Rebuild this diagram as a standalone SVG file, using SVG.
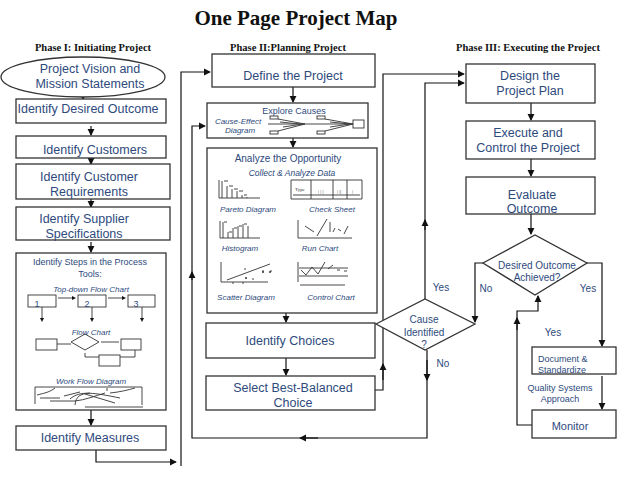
<svg xmlns="http://www.w3.org/2000/svg" width="638" height="478" viewBox="0 0 638 478">
<defs>
<marker id="ar" viewBox="0 0 8 8" refX="7" refY="4" markerWidth="6" markerHeight="6" orient="auto"><path d="M0,0 L8,4 L0,8 z" fill="#111"/></marker>
<style>
.b{fill:#fff;stroke:#333;stroke-width:1.3}
.t{font-family:"Liberation Sans",Arial,sans-serif;fill:#2E4A7D;text-anchor:middle}
.m{font-size:12.5px}
.s{font-size:9px}
.i{font-style:italic;font-size:8px}
.ph{font-family:"Liberation Serif","Times New Roman",serif;font-weight:bold;font-size:10.5px;fill:#111;text-anchor:middle}
.c{fill:none;stroke:#111;stroke-width:1.2}
.d{fill:none;stroke:#333;stroke-width:0.9}
</style>
</defs>
<rect width="638" height="478" fill="#fff"/>
<text x="296" y="25" font-family="Liberation Serif,serif" font-weight="bold" font-size="21" text-anchor="middle" fill="#111">One Page Project Map</text>
<text class="ph" x="93" y="51">Phase I: Initiating Project</text>
<text class="ph" x="288" y="51">Phase II:Planning Project</text>
<text class="ph" x="528" y="51">Phase III: Executing the Project</text>

<g id="connectors">
<path class="c" d="M83,97 V99" marker-end="url(#ar)"/>
<path class="c" d="M91,126 V135" marker-end="url(#ar)"/>
<path class="c" d="M91,158 V164" marker-end="url(#ar)"/>
<path class="c" d="M91,199 V207" marker-end="url(#ar)"/>
<path class="c" d="M91,242 V252" marker-end="url(#ar)"/>
<path class="c" d="M91,410 V425" marker-end="url(#ar)"/>
<path class="c" d="M96,450 V462 H176" marker-end="url(#ar)"/>
<path class="c" d="M181,466 V72 H210" marker-end="url(#ar)"/>
<path class="c" d="M427,350 V438 H192 V126 H205" marker-end="url(#ar)"/>
<path class="c" d="M293,87 V102" marker-end="url(#ar)"/>
<path class="c" d="M293,138 V147" marker-end="url(#ar)"/>
<path class="c" d="M286,313 V322" marker-end="url(#ar)"/>
<path class="c" d="M286,358 V375" marker-end="url(#ar)"/>
<path class="c" d="M375,390 H383 V74 H464" marker-end="url(#ar)"/>
<path class="c" d="M425,299 V83 H464" marker-end="url(#ar)"/>
<path class="c" d="M483,263 H475 V322" marker-end="url(#ar)"/>
<path class="c" d="M531,103 V120" marker-end="url(#ar)"/>
<path class="c" d="M531,159 V176" marker-end="url(#ar)"/>
<path class="c" d="M531,214 V234" marker-end="url(#ar)"/>
<path class="c" d="M587,263 H602 V346" marker-end="url(#ar)"/>
<path class="c" d="M602,376 V409" marker-end="url(#ar)"/>
<path class="c" d="M532,425 H517 V311 H538 V296" marker-end="url(#ar)"/>
<path class="c" d="M383,380 V364" marker-end="url(#ar)"/>
<path class="c" d="M425,230 V220" marker-end="url(#ar)"/>
<path class="c" d="M427,360 V380" marker-end="url(#ar)"/>
<path class="c" d="M300,438 H318" marker-end="url(#ar)" transform="rotate(180 309 438)"/>
<path class="c" d="M192,280 V272" marker-end="url(#ar)"/>
<path class="c" d="M517,330 V318" marker-end="url(#ar)"/>
</g>

<g id="vision"><ellipse class="b" cx="83" cy="77" rx="82" ry="20"/><text class="t m" x="90" y="73">Project Vision and</text><text class="t m" x="90" y="88">Mission Statements</text></g>
<g id="outcome"><rect class="b" x="16" y="99" width="150" height="24"/><text class="t m" x="88" y="113">Identify Desired Outcome</text></g>
<g id="customers"><rect class="b" x="16" y="136" width="150" height="22"/><text class="t m" x="95" y="154">Identify Customers</text></g>
<g id="custreq"><rect class="b" x="16" y="164" width="154" height="35"/><text class="t m" x="89" y="181">Identify Customer</text><text class="t m" x="89" y="196">Requirements</text></g>
<g id="supplier"><rect class="b" x="16" y="207" width="154" height="33"/><text class="t m" x="84" y="223">Identify Supplier</text><text class="t m" x="84" y="238">Specifications</text></g>
<g id="steps"><rect class="b" x="16" y="253" width="150" height="157"/>
<text class="t s" x="90" y="265">Identify Steps in the Process</text><text class="t s" x="90" y="277">Tools:</text>
<text class="t i" x="91" y="292">Top-down Flow Chart</text>
<rect class="d" x="28" y="295" width="28" height="12"/><rect class="d" x="78" y="295" width="28" height="12"/><rect class="d" x="128" y="295" width="27" height="12"/>
<text class="t s" x="37" y="307">1</text><text class="t s" x="87" y="307">2</text><text class="t s" x="136" y="307">3</text>
<path class="d" d="M58,298 H74 M108,298 H124 M42,307 V320 M92,307 V320 M142,307 V320"/>
<path d="M72,296 l4,2 -4,2z M122,296 l4,2 -4,2z M40,318 l2,4 2,-4z M90,318 l2,4 2,-4z M140,318 l2,4 2,-4z" fill="#111"/>
<text class="t i" x="91" y="335">Flow Chart</text>
<rect class="d" x="36" y="339" width="21" height="11"/><path class="d" d="M71,342 L85,334 L99,342 L85,350 Z"/><rect class="d" x="121" y="339" width="20" height="11"/><rect class="d" x="99" y="355" width="21" height="11"/>
<path class="d" d="M57,344 H71 M101,342 H119 M85,353 V357 H99 M120,357 H135 V350"/>
<text class="t i" x="91" y="384">Work Flow Diagram</text>
<path class="d" d="M35,387 H142 M35,387 V404 M142,387 V405 M37,395 C45,393 50,392 55,388 M40,398 H60 M50,401 H75 C85,400 95,396 105,393 M70,399 C80,390 95,393 120,398 M75,405 C76,396 80,394 90,393 M85,394 L115,403 M110,393 C120,392 128,390 135,388 M85,407 H143 M64,396 L80,392 M107,391 V388"/>
</g>
<g id="measures"><rect class="b" x="16" y="426" width="150" height="24"/><text class="t m" x="90" y="442">Identify Measures</text></g>

<g id="define"><rect class="b" x="212" y="54" width="163" height="33"/><text class="t m" x="293" y="80">Define the Project</text></g>
<g id="explore"><rect class="b" x="207" y="103" width="161" height="35"/>
<text class="t s" x="294" y="114">Explore Causes</text>
<text class="t i" x="238" y="124">Cause-Effect</text><text class="t i" x="240" y="133">Diagram</text>
<rect class="d" x="270" y="116" width="8" height="3"/><rect class="d" x="270" y="131" width="8" height="3"/><rect class="d" x="317" y="116" width="8" height="3"/><rect class="d" x="317" y="131" width="8" height="3"/>
<rect class="d" x="353" y="120" width="11" height="8"/>
<path class="d" d="M268,124 H353 M278,119 L305,124 M278,131 L305,124 M325,119 L353,124 M325,131 L353,124 M280,122 L300,124 M330,122 L350,124 M330,127 L350,124 M283,127 L303,124"/>
</g>
<g id="analyze"><rect class="b" x="207" y="148" width="170" height="165"/>
<text class="t s" x="288" y="162" style="font-size:10px">Analyze the Opportunity</text>
<text class="t i" x="292" y="176" style="font-size:8.5px">Collect &amp; Analyze Data</text>
<path class="d" d="M219,180 V198 H260 M222,181 V198 M227,186 V198 M232,189 V198 M237,191 V198 M242,195 V198 M247,197 V198 M224,181 h4 M229,186 h4 M234,189 h4 M239,191 h4 M244,195 h3"/>
<text class="t i" x="248" y="212">Pareto Diagram</text>
<path class="d" d="M291,180 V199 M291,180 H362 M291,199 H362 M362,180 V199 M311,180 V199 M333,180 V199 M347,180 V199 M293,195 H360"/>
<text x="295" y="191" font-family="Liberation Serif,serif" font-size="5" fill="#333">Type</text>
<text x="318" y="193" font-family="Liberation Serif,serif" font-size="5" fill="#333">| | |</text>
<text x="337" y="193" font-family="Liberation Serif,serif" font-size="5" fill="#333">| ||</text>
<text x="352" y="193" font-family="Liberation Serif,serif" font-size="5" fill="#333">|</text>
<text class="t i" x="332" y="212">Check Sheet</text>
<path class="d" d="M220,221 V238 H260 M223,222 V238 M228,232 V238 M233,228 V238 M238,226 V238 M243,224 V238 M248,226 V238 M224,222 h3 M229,232 h3 M234,228 h3 M239,226 h3 M244,224 h3"/>
<text class="t i" x="240" y="251">Histogram</text>
<path class="d" d="M298,220 V238 H352 M305,226 L314,232 M317,236 L327,219 M330,222 V232 M333,232 L335,228 M338,229 L341,231 M344,234 L348,226"/>
<text class="t i" x="320" y="251">Run Chart</text>
<path class="d" d="M221,262 V282 H268 M227,280 L270,264 M245,268 v2 M253,278 v2 M233,282 v2 M243,282 v2 M262,271 h2 M270,271 h2"/>
<circle cx="246" cy="278" r="1" fill="#333"/><circle cx="263" cy="272" r="1" fill="#333"/><circle cx="270" cy="272" r="1" fill="#333"/>
<path class="d" d="M298,262 V282 M300,285 H345 M299,268 H348 M299,276 H348 M301,270 L306,275 L312,267 L318,274 L325,262 M328,269 L333,265 M337,270 h3 M344,271 h3"/>
<text class="t i" x="331" y="300">Control Chart</text>
<text class="t i" x="246" y="300">Scatter Diagram</text>
</g>
<g id="choices"><rect class="b" x="206" y="323" width="169" height="35"/><text class="t m" x="290" y="345">Identify Choices</text></g>
<g id="select"><rect class="b" x="206" y="376" width="169" height="34"/><text class="t m" x="293" y="392">Select Best-Balanced</text><text class="t m" x="293" y="407">Choice</text></g>
<g id="cause"><path class="b" d="M376,324 L425,299 L475,324 L425,350 Z"/><text class="t s" x="424" y="323" style="font-size:10px">Cause</text><text class="t s" x="424" y="336" style="font-size:10px">Identified</text><text class="t s" x="424" y="348" style="font-size:10px">?</text></g>
<text class="t s" x="441" y="291" style="font-size:10px">Yes</text>
<text class="t s" x="443" y="367" style="font-size:10px">No</text>

<g id="design"><rect class="b" x="466" y="64" width="129" height="39"/><text class="t m" x="530" y="80">Design the</text><text class="t m" x="530" y="95">Project Plan</text></g>
<g id="execute"><rect class="b" x="466" y="121" width="129" height="38"/><text class="t m" x="528" y="137">Execute and</text><text class="t m" x="528" y="152">Control the Project</text></g>
<g id="evaluate"><rect class="b" x="466" y="177" width="129" height="37"/><text class="t m" x="532" y="199">Evaluate</text><text class="t m" x="532" y="213">Outcome</text></g>
<g id="desired"><path class="b" d="M483,263 L535,235 L587,263 L535,295 Z"/><text class="t s" x="537" y="269" style="font-size:10px">Desired Outcome</text><text class="t s" x="537" y="281" style="font-size:10px">Achieved?</text></g>
<text class="t s" x="486" y="292" style="font-size:10px">No</text>
<text class="t s" x="588" y="292" style="font-size:10px">Yes</text>
<text class="t s" x="553" y="336" style="font-size:10px">Yes</text>
<g id="document"><rect class="b" x="532" y="347" width="84" height="27"/><text class="s" x="538" y="362" font-family="Liberation Sans,sans-serif" fill="#2E4A7D">Document &amp;</text><text class="s" x="538" y="373" font-family="Liberation Sans,sans-serif" fill="#2E4A7D">Standardize</text></g>
<text class="t s" x="560" y="391">Quality Systems</text>
<text class="t s" x="560" y="402">Approach</text>
<g id="monitor"><rect class="b" x="532" y="410" width="84" height="28"/><text class="t s" x="570" y="430" style="font-size:11px">Monitor</text></g>
</svg>
